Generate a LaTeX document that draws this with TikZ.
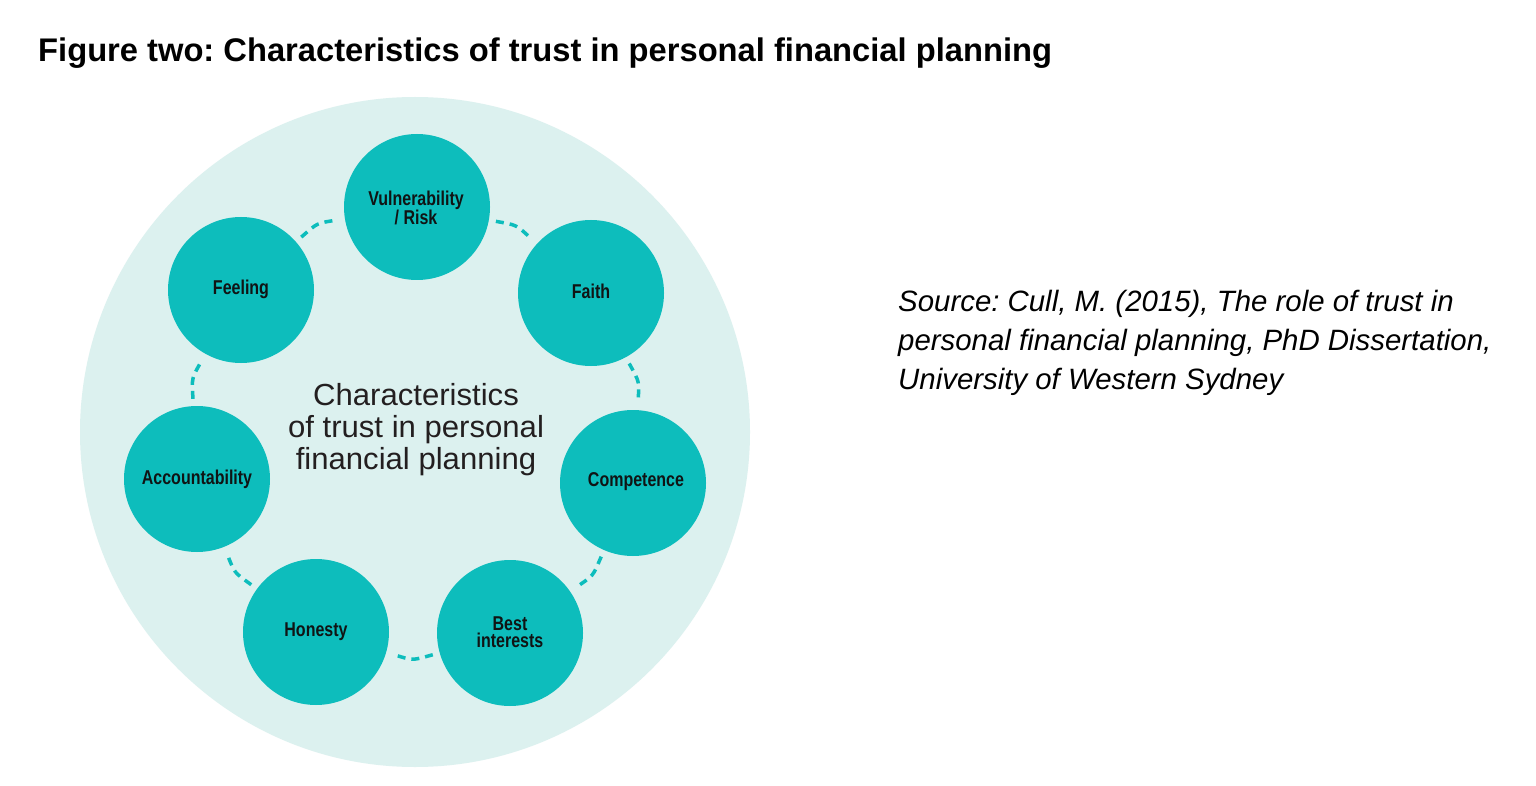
\documentclass[tikz,border=0pt]{standalone}
\usepackage{fontspec}
\setmainfont{Liberation Sans}
\newfontfamily\condfont[FakeStretch=0.8]{Liberation Sans}
\newfontfamily\centrefont[FakeStretch=1.02]{Liberation Sans}
\definecolor{teal1}{HTML}{0DBDBC}
\definecolor{pale}{HTML}{DCF1EF}
\definecolor{ink}{HTML}{231F20}
\definecolor{labelink}{HTML}{101414}
\tikzset{
  item/.style={circle, fill=teal1, minimum size=146pt, inner sep=0pt},
  itemlabel/.style={align=center, font=\condfont\bfseries\fontsize{20}{17}\selectfont, text=labelink, inner sep=0pt},
  link/.style={draw=teal1, line width=3.5pt, dash pattern=on 8pt off 6pt, shorten >=7pt, shorten <=7pt},
  arcbend/.style={bend left=16, looseness=1.4},
  srcline/.style={anchor=base west, inner sep=0pt, font=\itshape\fontsize{29.4}{39}\selectfont},
}
\frenchspacing
\begin{document}
\begin{tikzpicture}[x=1pt,y=-1pt]
\useasboundingbox (0,0) rectangle (1536,786);
\fill[white] (0,0) rectangle (1536,786);
% title
\node[anchor=base west, inner sep=0pt, font=\bfseries\fontsize{32.7}{36}\selectfont] (title) at (38,62) {Figure two: Characteristics of trust in personal financial planning};
% source
\node[srcline] (src1) at (898,311) {Source: Cull, M. (2015), The role of trust in};
\node[srcline] (src2) at (898,350) {personal financial planning, PhD Dissertation,};
\node[srcline] (src3) at (898,389) {University of Western Sydney};
% big circle
\node[circle, fill=pale, minimum size=670pt, inner sep=0pt] (ring) at (415,432) {};
% centre text
\node[align=center, inner sep=0pt, text=ink, font=\centrefont\fontsize{30.5}{32}\selectfont] (centre) at (416,430) {Characteristics\\of trust in personal\\financial planning};
% items
\node[item] (vul) at (417,207) {};
\node[item] (fai) at (591,293) {};
\node[item] (com) at (633,483) {};
\node[item] (bes) at (510,633) {};
\node[item] (hon) at (316,632) {};
\node[item] (acc) at (197,479) {};
\node[item] (fee) at (241,290) {};
\node[itemlabel] (lvul) at (416,208) {Vulnerability\\/ Risk};
\node[itemlabel] (lfai) at (591,291) {Faith};
\node[itemlabel] (lcom) at (636,482) {Competence};
\node[itemlabel] (lbes) at (510,632) {Best\\interests};
\node[itemlabel] (lhon) at (316,632) {Honesty};
\node[itemlabel] (lacc) at (197,479) {Accountability};
\node[itemlabel] (lfee) at (241,289) {Feeling};
% connectors
\draw[link] (vul) to[arcbend] (fai);
\draw[link] (fai) to[arcbend] (com);
\draw[link] (com) to[arcbend] (bes);
\draw[link] (bes) to[arcbend] (hon);
\draw[link] (hon) to[arcbend] (acc);
\draw[link] (acc) to[arcbend] (fee);
\draw[link] (fee) to[arcbend] (vul);
\end{tikzpicture}
\end{document}
